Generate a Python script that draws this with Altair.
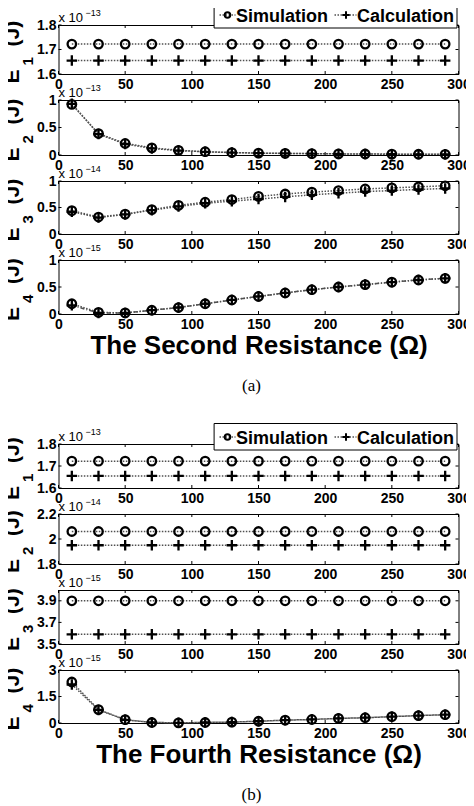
import altair as alt
import pandas as pd

# ---------------- data (mantissas; exponent shown above each panel) ----------------
x_ohm = [10, 30, 50, 70, 90, 110, 130, 150, 170, 190, 210, 230, 250, 270, 290]
x_ticks = [0, 50, 100, 150, 200, 250, 300]

# (a) The Second Resistance
a_e1_sim = [1.722, 1.722, 1.722, 1.722, 1.722, 1.722, 1.722, 1.722, 1.722, 1.722, 1.722, 1.722, 1.722, 1.722, 1.722]
a_e1_calc = [1.655, 1.655, 1.655, 1.655, 1.655, 1.655, 1.655, 1.655, 1.655, 1.655, 1.655, 1.655, 1.655, 1.655, 1.655]
a_e2_sim = [0.92, 0.39, 0.21, 0.13, 0.085, 0.06, 0.045, 0.035, 0.03, 0.025, 0.021, 0.018, 0.016, 0.014, 0.013]
a_e2_calc = [0.93, 0.38, 0.20, 0.12, 0.08, 0.058, 0.044, 0.034, 0.028, 0.024, 0.02, 0.017, 0.015, 0.013, 0.012]
a_e3_sim = [0.44, 0.32, 0.375, 0.46, 0.54, 0.60, 0.65, 0.71, 0.755, 0.79, 0.82, 0.85, 0.87, 0.89, 0.91]
a_e3_calc = [0.42, 0.31, 0.37, 0.45, 0.52, 0.58, 0.62, 0.66, 0.70, 0.74, 0.77, 0.80, 0.82, 0.84, 0.86]
a_e4_sim = [0.19, 0.03, 0.02, 0.07, 0.12, 0.19, 0.26, 0.325, 0.39, 0.45, 0.50, 0.545, 0.59, 0.63, 0.66]
a_e4_calc = [0.16, 0.02, 0.02, 0.07, 0.12, 0.19, 0.26, 0.325, 0.39, 0.45, 0.50, 0.545, 0.59, 0.63, 0.66]

# (b) The Fourth Resistance
b_e1_sim = [1.722, 1.722, 1.722, 1.722, 1.722, 1.722, 1.722, 1.722, 1.722, 1.722, 1.722, 1.722, 1.722, 1.722, 1.722]
b_e1_calc = [1.655, 1.655, 1.655, 1.655, 1.655, 1.655, 1.655, 1.655, 1.655, 1.655, 1.655, 1.655, 1.655, 1.655, 1.655]
b_e2_sim = [2.06, 2.06, 2.06, 2.06, 2.06, 2.06, 2.06, 2.06, 2.06, 2.06, 2.06, 2.06, 2.06, 2.06, 2.06]
b_e2_calc = [1.95, 1.95, 1.95, 1.95, 1.95, 1.95, 1.95, 1.95, 1.95, 1.95, 1.95, 1.95, 1.95, 1.95, 1.95]
b_e3_sim = [3.90, 3.90, 3.90, 3.90, 3.90, 3.90, 3.90, 3.90, 3.90, 3.90, 3.90, 3.90, 3.90, 3.90, 3.90]
b_e3_calc = [3.59, 3.59, 3.59, 3.59, 3.59, 3.59, 3.59, 3.59, 3.59, 3.59, 3.59, 3.59, 3.59, 3.59, 3.59]
b_e4_sim = [2.32, 0.76, 0.19, 0.03, 0.01, 0.03, 0.05, 0.10, 0.16, 0.20, 0.26, 0.30, 0.36, 0.42, 0.47]
b_e4_calc = [2.18, 0.74, 0.18, 0.03, 0.01, 0.03, 0.05, 0.10, 0.16, 0.20, 0.26, 0.30, 0.36, 0.42, 0.47]

legend_labels = ["Simulation", "Calculation"]

FONT = "Liberation Sans"
PLUS = "M-1,0L1,0M0,-1L0,1"
W = 400
LINE_COLOR = "#505050"
DOT = [1.5, 1.5]


def txt(s, x, y, **kw):
    return alt.Chart(pd.DataFrame({"t": [s]})).mark_text(**kw).encode(
        text="t:N", x=alt.value(x), y=alt.value(y)
    )


def panel(sim, calc, dom, yt, h, exp_txt, sub, calc_dash=DOT,
          legend_top=None, xtitle=None, caption=None):
    axis_x = dict(values=x_ticks, labelPadding=3)
    if xtitle:
        axis_x.update(title=xtitle, titleY=18, titleBaseline="top")
    else:
        axis_x.update(title=None)
    X = alt.X("x:Q", scale=alt.Scale(domain=[0, 300], nice=False, zero=False),
              axis=alt.Axis(**axis_x))
    Y = alt.Y("value:Q", scale=alt.Scale(domain=dom, nice=False, zero=False),
              axis=alt.Axis(values=yt, title=None, format=".2~f", labelPadding=2.5))

    sim_df = pd.DataFrame({"x": x_ohm, "value": sim})
    calc_df = pd.DataFrame({"x": x_ohm, "value": calc})

    layers = [
        alt.Chart(sim_df).mark_line(color=LINE_COLOR, strokeWidth=1.5, strokeDash=DOT).encode(x=X, y=Y),
        alt.Chart(calc_df).mark_line(color=LINE_COLOR, strokeWidth=1.5, strokeDash=calc_dash).encode(x=X, y=Y),
        alt.Chart(sim_df).mark_point(shape="circle", filled=False, color="black", size=72,
                                     strokeWidth=2.3, opacity=1).encode(x=X, y=Y),
        alt.Chart(calc_df).mark_point(shape=PLUS, filled=False, color="black", size=110,
                                      strokeWidth=2.3, opacity=1).encode(x=X, y=Y),
    ]
    # inward ticks on all four sides (MATLAB box style)
    xt_df = pd.DataFrame({"x": x_ticks})
    yt_df = pd.DataFrame({"value": yt})
    layers += [
        alt.Chart(xt_df).mark_rule(color="black", strokeWidth=1).encode(x=X, y=alt.value(h - 3), y2=alt.value(h)),
        alt.Chart(xt_df).mark_rule(color="black", strokeWidth=1).encode(x=X, y=alt.value(0), y2=alt.value(3)),
        alt.Chart(yt_df).mark_rule(color="black", strokeWidth=1).encode(y=Y, x=alt.value(0), x2=alt.value(3)),
        alt.Chart(yt_df).mark_rule(color="black", strokeWidth=1).encode(y=Y, x=alt.value(W - 3), x2=alt.value(W)),
    ]
    # exponent label  "x 10^-n"
    layers += [
        txt("x 10", 0, -3, font=FONT, fontSize=13, align="left", baseline="alphabetic", color="black"),
        txt(exp_txt, 27, -9.5, font=FONT, fontSize=9, align="left", baseline="alphabetic", color="black"),
    ]
    # y title  E_n (J), rotated
    c = h / 2
    layers += [
        txt("E", -39.4, c + 34, font=FONT, fontSize=21, fontWeight="bold", angle=270,
            align="left", baseline="alphabetic", color="black"),
        txt(sub, -26, c + 16, font=FONT, fontSize=15, fontWeight="bold", angle=270,
            align="left", baseline="alphabetic", color="black"),
        txt("(J)", -39.4, c - 3, font=FONT, fontSize=21, fontWeight="bold", angle=270,
            align="left", baseline="alphabetic", color="black"),
    ]
    if legend_top is not None:
        t = legend_top
        one = pd.DataFrame({"a": [0]})
        layers += [
            alt.Chart(one).mark_rect(fill="white", stroke="black", strokeWidth=1).encode(
                x=alt.value(155.6), x2=alt.value(W - 1.5), y=alt.value(t), y2=alt.value(t + 26.5)),
            alt.Chart(one).mark_rule(color=LINE_COLOR, strokeWidth=1.5, strokeDash=DOT).encode(
                x=alt.value(161), x2=alt.value(177), y=alt.value(t + 13.5)),
            alt.Chart(one).mark_rule(color=LINE_COLOR, strokeWidth=1.5, strokeDash=DOT).encode(
                x=alt.value(276), x2=alt.value(298), y=alt.value(t + 13.5)),
            alt.Chart(one).mark_point(shape="circle", filled=False, color="black", size=30,
                                      strokeWidth=2, opacity=1).encode(x=alt.value(169), y=alt.value(t + 13.5)),
            alt.Chart(one).mark_point(shape=PLUS, filled=False, color="black", size=55,
                                      strokeWidth=2, opacity=1).encode(x=alt.value(287.5), y=alt.value(t + 13.5)),
            txt(legend_labels[0], 177.5, t + 20.5, font=FONT, fontSize=18, fontWeight="bold",
                align="left", baseline="alphabetic", color="black"),
            txt(legend_labels[1], 298.5, t + 20.5, font=FONT, fontSize=18, fontWeight="bold",
                align="left", baseline="alphabetic", color="black"),
        ]
    if caption:
        layers.append(txt(caption, 193, h + 77, font="Liberation Serif", fontSize=17,
                          align="center", baseline="alphabetic", color="black"))
    return alt.layer(*layers).properties(width=W, height=h)


a1 = panel(a_e1_sim, a_e1_calc, [1.6, 1.8], [1.6, 1.7, 1.8], 49, "\u221213", "1", legend_top=-23.5)
a2 = panel(a_e2_sim, a_e2_calc, [0, 1], [0, 0.5, 1], 55, "\u221213", "2")
a3 = panel(a_e3_sim, a_e3_calc, [0, 1], [0, 0.5, 1], 53, "\u221214", "3")
a4 = panel(a_e4_sim, a_e4_calc, [0, 1], [0, 0.5, 1], 54, "\u221215", "4", calc_dash=[4, 2, 1, 2],
           xtitle="The Second Resistance (\u03a9)", caption="(a)")

spacer = alt.Chart(pd.DataFrame({"t": [""]})).mark_text().encode(text="t:N").properties(
    width=W, height=78, view=alt.ViewConfig(stroke="transparent"))

b1 = panel(b_e1_sim, b_e1_calc, [1.6, 1.8], [1.6, 1.7, 1.8], 44, "\u221213", "1", legend_top=-20.5)
b2 = panel(b_e2_sim, b_e2_calc, [1.8, 2.2], [1.8, 2, 2.2], 50, "\u221214", "2")
b3 = panel(b_e3_sim, b_e3_calc, [3.5, 4.0], [3.5, 3.7, 3.9], 54, "\u221215", "3")
b4 = panel(b_e4_sim, b_e4_calc, [0, 3], [0, 1.5, 3], 53, "\u221215", "4",
           xtitle="The Fourth Resistance (\u03a9)", caption="(b)")

chart = alt.vconcat(a1, a2, a3, a4, spacer, b1, b2, b3, b4, spacing=26, bounds="flush").properties(
    padding={"left": -6.5, "top": -8, "right": -6, "bottom": 0}
).configure_view(
    stroke="black", strokeWidth=1
).configure_axis(
    domain=False, ticks=False, grid=False, labelFont=FONT, labelFontWeight="bold",
    labelFontSize=14, labelColor="black", labelFlush=False,
    titleFont=FONT, titleFontWeight="bold", titleFontSize=26, titleColor="black"
)

chart.save("out.html", embed_options={"renderer": "svg", "actions": False})
